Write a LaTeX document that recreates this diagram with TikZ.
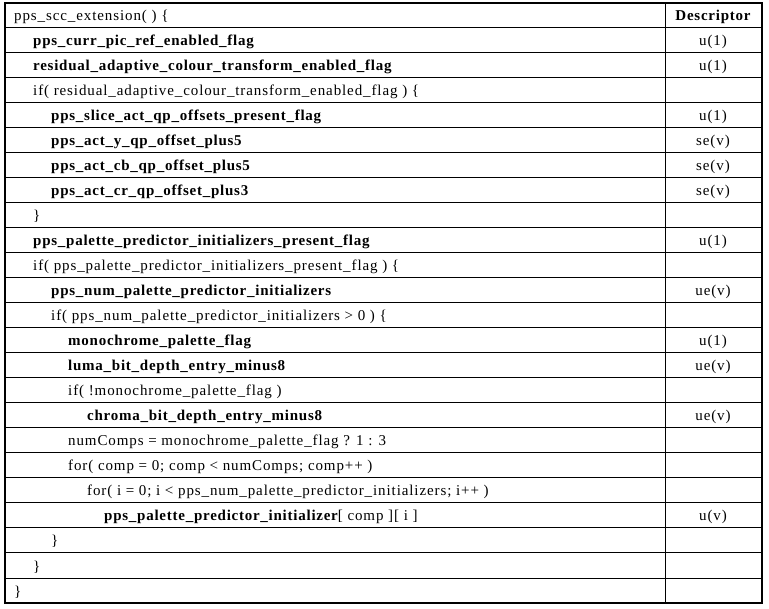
\documentclass[tikz,border=0pt]{standalone}
\usepackage{fontspec}
\setmainfont[LetterSpace=6]{Liberation Serif}
\newfontfamily\bsp[LetterSpace=5]{Liberation Serif Bold}
\begin{document}
\begin{tikzpicture}[x=1pt,y=-1pt,
  t/.style={anchor=base west,inner sep=0pt,font=\fontsize{15}{17}\selectfont},
  b/.style={t,font=\fontsize{15}{17}\bsp},
  d/.style={anchor=base,inner sep=0pt,font=\fontsize{15}{17}\selectfont}]
\useasboundingbox (0,0) rectangle (769,609);
\draw[line width=1.2pt] (5,3) rectangle (762,603);
\foreach \i in {1,...,23} \draw[line width=1pt] (5,3+25*\i) -- (762,3+25*\i);
\draw[line width=1pt] (665,3) -- (665,603);
\newcommand\row[4]{\node[#1] (r#4) at (#2,{21+25*#4}) {#3};}
\row{t}{14}{pps\_scc\_extension( ) \{}{0}
\node[d,font=\fontsize{15}{17}\bsp] (h) at (713,21) {Descriptor};
\row{b}{33}{pps\_curr\_pic\_ref\_enabled\_flag}{1}
\row{b}{33}{residual\_adaptive\_colour\_transform\_enabled\_flag}{2}
\row{t}{33}{if( residual\_adaptive\_colour\_transform\_enabled\_flag ) \{}{3}
\row{b}{51}{pps\_slice\_act\_qp\_offsets\_present\_flag}{4}
\row{b}{51}{pps\_act\_y\_qp\_offset\_plus5}{5}
\row{b}{51}{pps\_act\_cb\_qp\_offset\_plus5}{6}
\row{b}{51}{pps\_act\_cr\_qp\_offset\_plus3}{7}
\row{t}{33}{\}}{8}
\row{b}{33}{pps\_palette\_predictor\_initializers\_present\_flag}{9}
\row{t}{33}{if( pps\_palette\_predictor\_initializers\_present\_flag ) \{}{10}
\row{b}{51}{pps\_num\_palette\_predictor\_initializers}{11}
\row{t}{51}{if( pps\_num\_palette\_predictor\_initializers > 0 ) \{}{12}
\row{b}{68}{monochrome\_palette\_flag}{13}
\row{b}{68}{luma\_bit\_depth\_entry\_minus8}{14}
\row{t}{68}{if( !monochrome\_palette\_flag )}{15}
\row{b}{87}{chroma\_bit\_depth\_entry\_minus8}{16}
\row{t}{68}{numComps = monochrome\_palette\_flag ? 1 : 3}{17}
\row{t}{68}{for( comp = 0; comp < numComps; comp++ )}{18}
\row{t}{87}{for( i = 0; i < pps\_num\_palette\_predictor\_initializers; i++ )}{19}
\node[t] (r20) at (104,521) {{\bsp pps\_palette\_predictor\_initializer}[ comp ][ i ]};
\row{t}{51}{\}}{21}
\row{t}{33}{\}}{22}
\row{t}{14}{\}}{23}
\foreach \r/\v in {1/u(1),2/u(1),4/u(1),5/se(v),6/se(v),7/se(v),9/u(1),11/ue(v),13/u(1),14/ue(v),16/ue(v),20/u(v)}
  \node[d] (d\r) at (713,{21+25*\r}) {\v};
\end{tikzpicture}
\end{document}
